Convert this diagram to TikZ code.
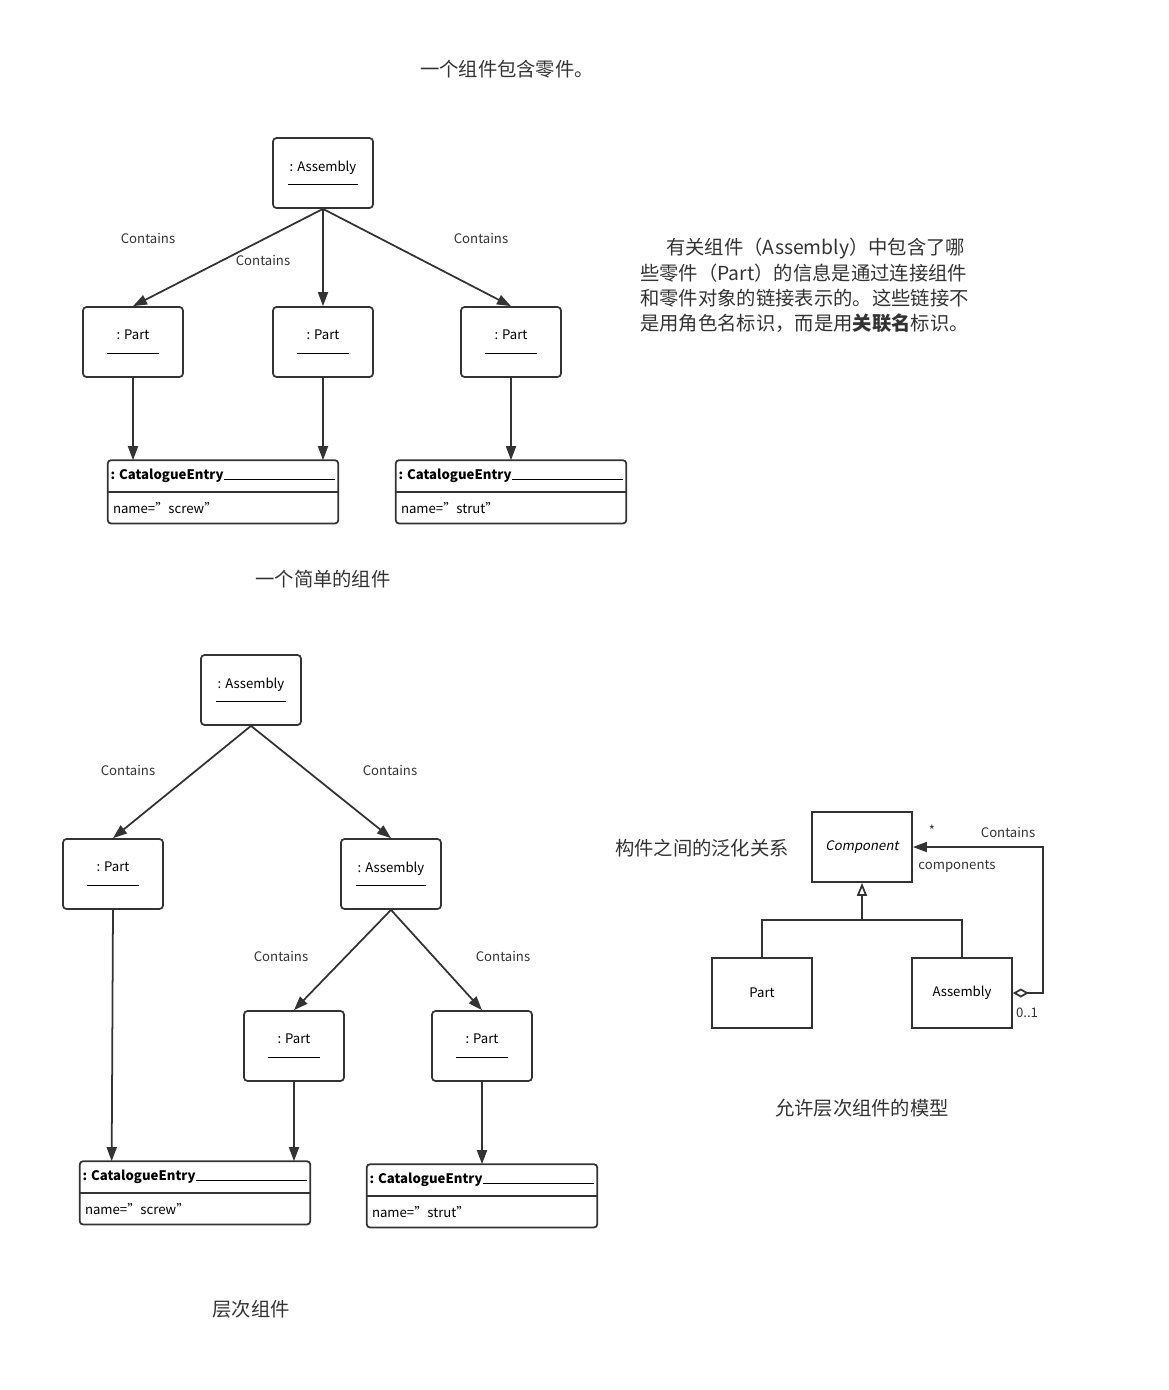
\documentclass[tikz,border=0pt]{standalone}
\usepackage{fontspec}
\setmainfont{Noto Sans CJK SC}
\newfontfamily\slantfont[FakeSlant=0.2]{Noto Sans CJK SC}
\usetikzlibrary{calc,arrows.meta,positioning}
\definecolor{ink}{HTML}{333333}
\tikzset{>={Triangle[length=0.28cm,width=0.2cm]},
  obj/.style={draw=ink,line width=1pt,rounded corners=2pt,minimum width=2cm,
    minimum height=1.4cm,align=center,font=\fontsize{7.5}{9}\selectfont},
  cls/.style={draw=ink,line width=1pt,minimum width=2cm,minimum height=1.4cm,
    font=\fontsize{7.5}{9}\selectfont},
  catpart/.style={minimum width=4.6cm,minimum height=0.62cm,inner sep=0pt,
    font=\fontsize{7.5}{9}\selectfont},
  link/.style={draw=ink,line width=1pt},
  lbl/.style={text=ink,font=\fontsize{7.5}{9}\selectfont},
  title/.style={text=ink,font=\fontsize{11}{13}\selectfont}}
\newcommand{\objtext}[2]{#2\\[-1pt]\rule{#1}{0.5pt}}
\newcommand{\catbox}[3]{%
  \node[catpart] (#1) at (#2) {\textbf{\objtext{2.24cm}{: CatalogueEntry}}};
  \node[catpart,below=0pt of #1,text width=4.4cm,align=left] (#1v) {#3};
  \draw[ink,line width=1pt,rounded corners=2pt] (#1.north west) rectangle (#1v.south east);
  \draw[ink,line width=1pt] (#1.south west) -- (#1.south east);}
\begin{document}
\begin{tikzpicture}[x=0.02cm,y=-0.02cm]
\useasboundingbox (0,0) rectangle (1169,1390);
% simple assembly
\node[title] (t1) at (507,69) {一个组件包含零件。};
\node[obj] (a) at (323,173) {\objtext{1.4cm}{: Assembly}};
\node[obj] (p1) at (133,342) {\objtext{1.04cm}{: Part}};
\node[obj] (p2) at (323,342) {\objtext{1.04cm}{: Part}};
\node[obj] (p3) at (511,342) {\objtext{1.04cm}{: Part}};
\catbox{c1}{223,476}{name="screw"}
\catbox{c2}{511,476}{name="strut"}
\draw[link,->] (a.south) -- (p1.north);
\draw[link,->] (a.south) -- (p2.north);
\draw[link,->] (a.south) -- (p3.north);
\draw[link,->] (p1.south) -- (p1.south |- c1.north);
\draw[link,->] (p2.south) -- (p2.south |- c1.north);
\draw[link,->] (p3.south) -- (c2.north);
\node[lbl] at (148,238) {Contains};
\node[lbl] at (263,260) {Contains};
\node[lbl] at (481,238) {Contains};
\node[title] (t2) at (323,579) {一个简单的组件};
% explanation
\node[title,anchor=west] at (660,248) {有关组件（Assembly）中包含了哪};
\node[title,anchor=west] at (634,273) {些零件（Part）的信息是通过连接组件};
\node[title,anchor=west] at (634,298) {和零件对象的链接表示的。这些链接不};
\node[title,anchor=west] at (634,323) {是用角色名标识，而是用\textbf{关联名}标识。};
% hierarchical assembly
\node[obj] (ha) at (251,690) {\objtext{1.4cm}{: Assembly}};
\node[obj] (hp1) at (113,874) {\objtext{1.04cm}{: Part}};
\node[obj] (hb) at (391,874) {\objtext{1.4cm}{: Assembly}};
\node[obj] (hp2) at (294,1046) {\objtext{1.04cm}{: Part}};
\node[obj] (hp3) at (482,1046) {\objtext{1.04cm}{: Part}};
\catbox{hc1}{195,1177}{name="screw"}
\catbox{hc2}{482,1180}{name="strut"}
\draw[link,->] (ha.south) -- (hp1.north);
\draw[link,->] (ha.south) -- (hb.north);
\draw[link,->] (hb.south) -- (hp2.north);
\draw[link,->] (hb.south) -- (hp3.north);
\draw[link,->] (hp1.south) -- ($(hc1.north west)+(32,0)$);
\draw[link,->] (hp2.south) -- (hp2.south |- hc1.north);
\draw[link,->] (hp3.south) -- (hc2.north);
\node[lbl] at (128,770) {Contains};
\node[lbl] at (390,770) {Contains};
\node[lbl] at (281,956) {Contains};
\node[lbl] at (503,956) {Contains};
\node[title] (t3) at (251,1309) {层次组件};
% class model
\node[title] (t4) at (702,848) {构件之间的泛化关系};
\node[cls] (comp) at (862,847) {\slantfont Component};
\node[cls] (cp) at (762,993) {Part};
\node[cls] (ca) at (962,993) {Assembly};
\coordinate (g) at (862,920);
\draw[link] (cp.north) |- (ca.north |- g) -- (ca.north);
\draw[link,-{Triangle[open,length=0.26cm,width=0.2cm]}] (g) -- (comp.south);
\coordinate (r) at (1043,993);
\draw[link,{Diamond[open,length=0.32cm,width=0.18cm]}->] (ca.east) -- (r) |- (comp.east);
\node[lbl] at (932,830) {*};
\node[lbl] at (1008,832) {Contains};
\node[lbl] at (957,866) {components};
\node[lbl] at (1027,1013) {0..1};
\node[title] (t5) at (862,1108) {允许层次组件的模型};
\end{tikzpicture}
\end{document}
